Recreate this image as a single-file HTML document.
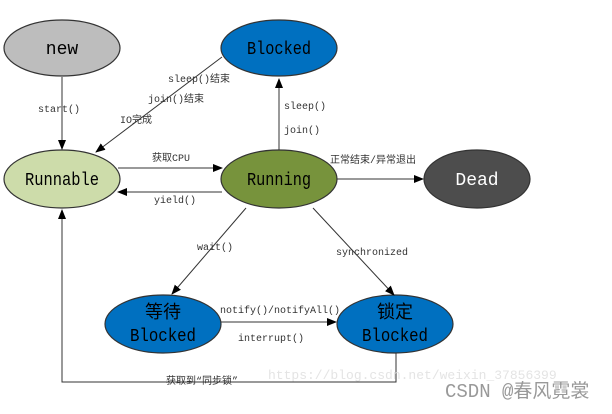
<!DOCTYPE html>
<html><head><style>
body{margin:0;background:#fff;}
svg text{font-family:"Liberation Mono","Noto Sans CJK SC",monospace;}
</style></head><body>
<svg width="612" height="409" viewBox="0 0 612 409" xmlns="http://www.w3.org/2000/svg">
<defs><marker id="a" markerWidth="10" markerHeight="8" refX="9" refY="4" orient="auto" markerUnits="userSpaceOnUse"><path d="M0,0 L10,4 L0,8 z" fill="#000"/></marker></defs>
<g stroke="#333" stroke-width="1.2">
<ellipse cx="62" cy="48" rx="58" ry="28" fill="#bdbdbd"/>
<ellipse cx="279" cy="48" rx="58" ry="28" fill="#0070c0"/>
<ellipse cx="62" cy="179" rx="58" ry="29" fill="#cddcaa"/>
<ellipse cx="279" cy="179" rx="58" ry="29" fill="#77933c"/>
<ellipse cx="477" cy="179" rx="53" ry="29" fill="#4d4d4d"/>
<ellipse cx="163" cy="324" rx="58" ry="29" fill="#0070c0"/>
<ellipse cx="395" cy="324" rx="58" ry="29" fill="#0070c0"/>
</g>
<g stroke="#333" stroke-width="1" fill="none" marker-end="url(#a)">
<line x1="62" y1="77" x2="62" y2="149"/>
<line x1="222" y1="57" x2="96" y2="152"/>
<line x1="279" y1="150" x2="279" y2="79"/>
<line x1="118" y1="168" x2="222" y2="168"/>
<line x1="222" y1="192" x2="118" y2="192"/>
<line x1="337" y1="179" x2="423" y2="179"/>
<line x1="246" y1="208" x2="172" y2="294"/>
<line x1="313" y1="208" x2="394" y2="295"/>
<line x1="221" y1="322" x2="336" y2="322"/>
<polyline points="396,353 396,382 62,382 62,210"/>
</g>
<g font-size="18" text-anchor="middle" fill="#000">
<text x="62" y="54">new</text>
<text x="279" y="54" textLength="64" lengthAdjust="spacingAndGlyphs">Blocked</text>
<text x="62" y="185" textLength="74" lengthAdjust="spacingAndGlyphs">Runnable</text>
<text x="279" y="185" textLength="64" lengthAdjust="spacingAndGlyphs">Running</text>
<text x="477" y="185" fill="#fff">Dead</text>
<text x="163" y="318" font-size="18">等待</text>
<text x="163" y="341" textLength="66" lengthAdjust="spacingAndGlyphs">Blocked</text>
<text x="395" y="318" font-size="18">锁定</text>
<text x="395" y="341" textLength="66" lengthAdjust="spacingAndGlyphs">Blocked</text>
</g>
<g font-size="10" fill="#333">
<text x="38" y="112">start()</text>
<text x="168" y="82">sleep()结束</text>
<text x="148" y="102">join()结束</text>
<text x="120" y="123">IO完成</text>
<text x="284" y="109">sleep()</text>
<text x="284" y="133">join()</text>
<text x="152" y="161">获取CPU</text>
<text x="154" y="203">yield()</text>
<text x="330" y="163">正常结束/异常退出</text>
<text x="197" y="250">wait()</text>
<text x="336" y="255">synchronized</text>
<text x="220" y="313">notify()/notifyAll()</text>
<text x="238" y="341">interrupt()</text>
<text x="166" y="384">获取到“同步锁”</text>
</g>
<text x="268" y="379" font-family="Liberation Sans,sans-serif" font-size="13" fill="#e4e4e4">https://blog.csdn.net/weixin_37856399</text>
<text x="445" y="397" font-family="Liberation Sans,'Noto Sans CJK SC',sans-serif" font-size="19" fill="#999">CSDN @春风霓裳</text>
</svg>
</body></html>
